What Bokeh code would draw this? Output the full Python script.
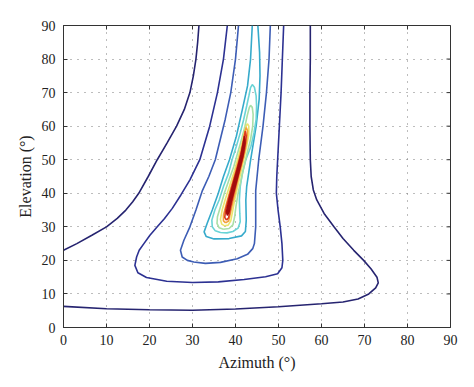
import math
from bokeh.plotting import figure
from bokeh.models import FixedTicker, Range1d
from bokeh.embed import file_html
from bokeh.resources import INLINE

# ---- axis data ----
x_ticks = [0, 10, 20, 30, 40, 50, 60, 70, 80, 90]
y_ticks = [0, 10, 20, 30, 40, 50, 60, 70, 80, 90]
x_label = "Azimuth (°)"
y_label = "Elevation (°)"

# ---- contour lines (azimuth, elevation) ----
# level 1 (outermost), two pieces
c1a_x = [0, 3.1, 6.6, 10, 12.5, 14.5, 16.1, 17.5, 19.7, 21.8, 24.1, 26.3, 28.1, 29.4, 30.2, 30.8, 31.2, 31.5]
c1a_y = [23, 25, 27.5, 30, 32.5, 35, 37.5, 40, 45, 50, 55, 60, 65, 70, 75, 80, 85, 90]
c1b_x = [0, 10, 20, 30, 40, 50, 60, 65, 68.5, 71, 72.6, 73.2, 72.9, 71.5, 69.8, 67.5, 65, 62.9,
         60.6, 58.9, 58.1, 57.6, 57.4, 57.3, 57.3, 57.4, 57.4]
c1b_y = [6.3, 5.6, 5.3, 5.15, 5.5, 6.2, 7.1, 7.6, 8.5, 10, 11.8, 13.3, 15, 17.5, 20, 23, 26.5, 30,
         34, 38, 41, 45, 50, 60, 70, 80, 90]
# level 2
c2_x = [38.1, 37.2, 35.8, 34, 31.7, 29.4, 27.3, 25.3, 23.5, 21.8, 20.1, 18.7, 17.6, 17, 16.6, 17.3,
        19.3, 24, 30, 36, 42, 47, 49.8, 50.8, 51, 50.8, 50.4, 49.9, 49.5, 49.6, 49.8, 50.2, 50.6,
        50.9, 51.2]
c2_y = [90, 80, 70, 60, 50, 44, 39.5, 35.5, 32.5, 30, 27.5, 25, 23, 21, 18.5, 16.3,
        14.9, 13.8, 13.4, 13.6, 14.3, 15.1, 16, 17.8, 20, 25, 30, 35, 40, 45, 50, 60, 70, 80, 90]
# level 3
c3_x = [40.7, 40, 38.9, 37.6, 35.3, 33.8, 32.3, 30.8, 29.4, 28, 27.2, 27.6, 28.8, 30.3, 33, 36.5,
        40.4, 42.8, 44, 44.4, 44.7, 44.7, 45.4, 46.4, 47.2, 47.8, 48.1]
c3_y = [90, 80, 70, 62, 50, 45, 40.8, 35, 30, 26, 23, 21, 20, 19.5, 19.1, 19.4,
        20.5, 21.8, 23.5, 25, 30, 40.8, 50, 60, 70, 80, 90]
# level 4
c4_x = [43.9, 43.5, 42.8, 41.6, 40.2, 38.6, 37.2, 36, 34.6, 33.4, 32.7, 33.2, 35, 38.5, 41.4,
        42.3, 42.5, 42.4, 42.6, 43.5, 44.8, 45.5, 45.7, 45.6, 45.2]
c4_y = [90, 80, 72, 65, 57, 50, 45, 40, 35, 31, 28.5, 27.1, 26.4, 26.5, 27.3,
        28.6, 32, 38, 42, 49.8, 60, 68, 75, 82, 90]
# level 5 (closed)
c5_x = [36.5, 35.3, 34.6, 34.5, 35.2, 36.2, 37.2, 38.4, 39.2, 40.2, 41.1, 41.9, 42.6, 43.1, 43.5,
        43.9, 44.4, 44.8, 44.9, 44.8, 44.3, 43.6, 42.4, 41.6, 41.1, 40.9, 41, 41.1, 40.6, 39.4, 38]
c5_y = [28.3, 28.8, 30, 32, 35, 38, 42, 46, 50, 54, 58, 62, 66, 69, 71.5,
        72.4, 71.6, 69, 66, 62, 58, 54, 50, 46, 42, 38, 34, 31.5, 29.6, 28.6, 28.2]
# level 6 (closed)
c6_x = [37.2, 36.2, 35.7, 35.8, 36.5, 37.4, 38.5, 39.6, 40.5, 41.4, 42.2, 42.8, 43.2, 43.5,
        43.9, 44.1, 44, 43.5, 42.7, 42, 41.3, 40.6, 40.1, 39.8, 39.4, 38.5]
c6_y = [29.3, 29.7, 31, 33, 36, 40, 44, 48, 52, 56, 60, 63.5, 65.5, 66.2,
        65.6, 63.5, 60, 56, 52, 48, 44, 40, 36, 33, 30.6, 29.5]
# level 7 (closed)
c7_x = [37.5, 36.8, 36.5, 36.9, 37.7, 38.7, 39.7, 40.6, 41.4, 42.1, 42.5, 42.8,
        43.1, 43.1, 42.6, 41.9, 41.2, 40.5, 39.8, 39.3, 38.9, 38.3]
c7_y = [30.3, 30.8, 32.2, 35, 38.5, 42.5, 46.5, 50.5, 54.5, 58.3, 60.2, 60.7,
        60, 57.5, 54, 50, 46, 42, 38, 34.5, 31.8, 30.5]
# level 8 (closed)
c8_x = [37.7, 37.2, 37.2, 37.9, 38.9, 39.9, 40.9, 41.7, 42.2, 42.5,
        42.8, 42.6, 41.9, 41, 40.2, 39.4, 38.8, 38.4]
c8_y = [31.2, 31.8, 33.5, 37, 41.5, 46, 50.5, 55, 58.5, 59.6,
        58.6, 55.5, 51, 46.5, 42, 37.5, 34, 31.7]
# level 9 (closed)
c9_x = [37.9, 37.5, 37.7, 38.5, 39.5, 40.5, 41.4, 42, 42.3, 42.5, 42.1, 41.3, 40.4, 39.5, 38.8, 38.4]
c9_y = [32, 32.8, 35, 39, 43.5, 48, 52.5, 56.5, 58.5, 57, 53, 48.5, 44, 39.5, 35.5, 32.7]
# level 10 (closed, innermost)
c10_x = [38.1, 37.9, 38.5, 39.4, 40.4, 41.3, 41.9, 42.1, 42.2, 41.7, 40.8, 39.9, 39, 38.5]
c10_y = [33.4, 34.5, 38, 42.5, 47, 51.5, 55.5, 57, 55, 51, 46.5, 42, 37.5, 34.5]

level_colors = ["#262470", "#2c3192", "#3d5db5", "#36aacb", "#6ad4d6",
                "#a9dfa6", "#ece46c", "#f2a23c", "#dc3a1e", "#a30d0d"]

FONT = "Liberation Serif"
AX = "#333333"

p = figure(width=470, height=380, x_range=Range1d(0, 90), y_range=Range1d(0, 90),
           output_backend="svg", toolbar_location=None,
           min_border_left=63, min_border_right=20, min_border_top=25, min_border_bottom=53)
p.background_fill_color = "white"
p.border_fill_color = "white"
p.outline_line_color = AX
p.outline_line_width = 1

for ax, ticks in ((p.xaxis, x_ticks), (p.yaxis, y_ticks)):
    ax.ticker = FixedTicker(ticks=ticks)
    ax.major_tick_in = 4
    ax.major_tick_out = 0
    ax.minor_tick_line_color = None
    ax.axis_line_color = AX
    ax.major_tick_line_color = AX
    ax.major_label_text_font = FONT
    ax.major_label_text_font_size = "14px"
    ax.major_label_text_color = "#222222"
    ax.axis_label_text_font = FONT
    ax.axis_label_text_font_size = "16px"
    ax.axis_label_text_font_style = "normal"
    ax.axis_label_text_color = "#222222"
p.xaxis.axis_label = x_label
p.yaxis.axis_label = y_label
p.xaxis.major_label_standoff = 7
p.xaxis.axis_label_standoff = 6
p.yaxis.major_label_standoff = 8
p.yaxis.axis_label_standoff = 5

p.xgrid.ticker = FixedTicker(ticks=x_ticks)
p.ygrid.ticker = FixedTicker(ticks=y_ticks)
for g in (p.xgrid, p.ygrid):
    g.grid_line_color = "#7a7a7a"
    g.grid_line_dash = "1 6"
    g.grid_line_width = 1

# inward ticks on the top and right frame edges (half of each dash is clipped by the frame)
x_top = [max(y_ticks)] * len(x_ticks)
y_right = [max(x_ticks)] * len(y_ticks)
p.scatter(x_ticks, x_top, marker="dash", size=8, angle=math.pi / 2, line_color=AX, line_width=1)
p.scatter(y_right, y_ticks, marker="dash", size=8, line_color=AX, line_width=1)

def closed(xs, ys):
    return xs + xs[:1], ys + ys[:1]

lw = 1.6
p.line(c1a_x, c1a_y, line_color=level_colors[0], line_width=lw)
p.line(c1b_x, c1b_y, line_color=level_colors[0], line_width=lw)
p.line(c2_x, c2_y, line_color=level_colors[1], line_width=lw)
p.line(c3_x, c3_y, line_color=level_colors[2], line_width=lw)
p.line(c4_x, c4_y, line_color=level_colors[3], line_width=lw)
for i, (xs, ys) in enumerate([(c5_x, c5_y), (c6_x, c6_y), (c7_x, c7_y), (c8_x, c8_y), (c9_x, c9_y)]):
    cx, cy = closed(xs, ys)
    p.line(cx, cy, line_color=level_colors[4 + i], line_width=lw)
cx, cy = closed(c10_x, c10_y)
p.patch(cx, cy, fill_color=level_colors[9], line_color=level_colors[9], line_width=lw)

open("out.html", "w").write(file_html(p, INLINE))
